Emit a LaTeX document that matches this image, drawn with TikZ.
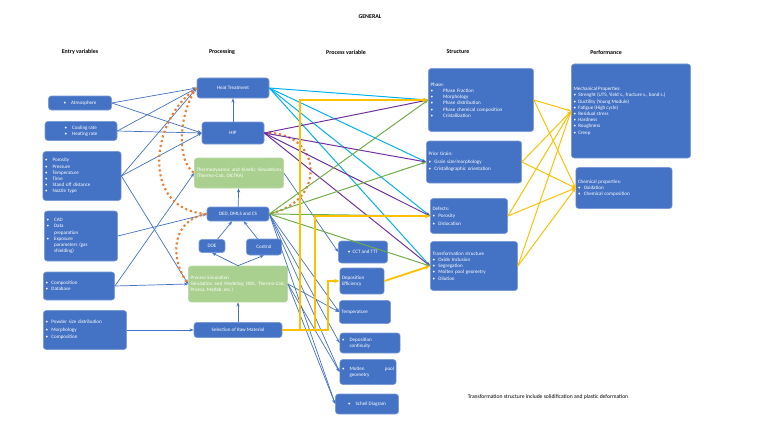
\documentclass[tikz,border=0pt]{standalone}
\usepackage{fontspec}
\setmainfont{Carlito}
\usetikzlibrary{arrows.meta}
\definecolor{boxblue}{RGB}{68,114,196}
\definecolor{boxgreen}{RGB}{169,208,142}
\definecolor{ycol}{RGB}{255,192,0}
\definecolor{ocol}{RGB}{237,125,49}
\definecolor{ccol}{RGB}{0,176,240}
\definecolor{pcol}{RGB}{112,48,160}
\definecolor{gcol}{RGB}{112,173,71}
\begin{document}
\begin{tikzpicture}[x=0.025cm,y=-0.025cm,
box/.style ={rectangle, draw=boxblue!70!white, fill=boxblue, text=white,
  rounded corners=2pt, font=\fontsize{3.6}{4.4}\selectfont, align=left,
  inner sep=1.5pt},
gbox/.style ={box, draw=boxgreen!80!white, fill=boxgreen},
head/.style ={font=\fontsize{4.2}{5}\selectfont\bfseries},
lk/.style ={draw=boxblue, line width=0.5pt, -{Stealth[length=3pt]}},
ck/.style ={draw=ccol, line width=0.7pt, -{Stealth[length=3pt]}},
pk/.style ={draw=pcol, line width=0.7pt, -{Stealth[length=3pt]}},
gk/.style ={draw=gcol, line width=0.7pt, -{Stealth[length=3pt]}},
yk/.style ={draw=ycol, line width=1.3pt, -{Stealth[length=4pt]}},
ok/.style ={draw=ocol, line width=1.5pt, dotted}]
\useasboundingbox (0,0) rectangle (768,433);
% headings
\node[head] (hgen) at (370,17) {GENERAL};
\node[head] (hent) at (80,52) {Entry variables};
\node[head] (hpro) at (222,52) {Processing};
\node[head] (hvar) at (346,52) {Process variable};
\node[head] (hstr) at (458,52) {Structure};
\node[head] (hper) at (606,52) {Performance};
% entry variables
\node[box, minimum width=63*0.025cm, minimum height=14*0.025cm] (atm) at (80,103) {\textbullet\quad Atmosphere};
\node[box, minimum width=72*0.025cm, minimum height=19*0.025cm] (cool) at (81,131) {\textbullet\quad Cooling rate\\\textbullet\quad Heating rate};
\node[box, text width=74*0.025cm, minimum height=49*0.025cm] (poro) at (82,176) {\textbullet\quad Porosity\\\textbullet\quad Pressure\\\textbullet\quad Temperature\\\textbullet\quad Time\\\textbullet\quad Stand off distance\\\textbullet\quad Nozzle type};
\node[box, text width=69*0.025cm, minimum height=50*0.025cm] (cad) at (81,236) {\textbullet\quad CAD\\\textbullet\quad Data\\\phantom{\textbullet\quad }preparation\\\textbullet\quad Exposure\\\phantom{\textbullet\quad }parameters (gas\\\phantom{\textbullet\quad }shielding)};
\node[box, text width=67*0.025cm, minimum height=28*0.025cm] (comp) at (79,286) {\textbullet\ \ Composition\\\textbullet\ \ Database};
\node[box, text width=79*0.025cm, minimum height=39*0.025cm] (powd) at (85,330) {\textbullet\ \ Powder size distribution\\[1pt]\textbullet\ \ Morphology\\[1pt]\textbullet\ \ Composition};
% processing
\node[box, minimum width=72*0.025cm, minimum height=20*0.025cm, align=center] (ht) at (233,88) {Heat Treatment};
\node[box, minimum width=62*0.025cm, minimum height=22*0.025cm, align=center] (hip) at (233,133) {HIP};
\node[gbox, text width=85*0.025cm, minimum height=30*0.025cm, align=justify] (thermo) at (239,173) {Thermodynamic and Kinetic Simulations (Thermo-Calc, DICTRA)};
\node[box, minimum width=62*0.025cm, minimum height=14*0.025cm, align=center] (ded) at (238,214) {DED, DMLS and CS};
\node[box, minimum width=26*0.025cm, minimum height=13*0.025cm, align=center] (doe) at (212,246) {DOE};
\node[box, minimum width=35*0.025cm, minimum height=16*0.025cm, align=center] (ctrl) at (264,247) {Control};
\node[gbox, text width=95*0.025cm, minimum height=36*0.025cm, align=justify] (psim) at (238,284) {Process Simulation\\Simulation and Modeling (KSS, Thermo-Calc, Prisma, Matlab, etc.)};
\node[box, minimum width=88*0.025cm, minimum height=15*0.025cm, align=center] (sel) at (238,330) {Selection of Raw Material};
% process variables
\node[box, minimum width=49*0.025cm, minimum height=22*0.025cm] (cct) at (363,252) {\textbullet\ \ CCT and TTT};
\node[box, text width=40*0.025cm, minimum height=26*0.025cm] (deff) at (362,281) {Deposition\\Efficiency};
\node[box, text width=47*0.025cm, minimum height=23*0.025cm] (temp) at (365,312) {Temperature};
\node[box, text width=56*0.025cm, minimum height=20*0.025cm] (dcon) at (370,343) {\textbullet\quad Deposition\\\phantom{\textbullet\quad }continuity};
\node[box, text width=52*0.025cm, minimum height=25*0.025cm] (mpool) at (368,372) {\textbullet\quad Molten\hfill pool\\\phantom{\textbullet\quad }geometry};
\node[box, minimum width=63*0.025cm, minimum height=20*0.025cm] (scheil) at (367,404) {\textbullet\quad Scheil Diagram};
% structure
\node[box, text width=101*0.025cm, minimum height=63*0.025cm] (phase) at (481,100) {Phase:\\\textbullet\qquad Phase Fraction\\\textbullet\qquad Morphology\\\textbullet\qquad Phase distribution\\\textbullet\qquad Phase chemical composition\\\textbullet\qquad Cristallization};
\node[box, text width=91*0.025cm, minimum height=42*0.025cm] (grain) at (474,162) {Prior Grain:\\[1pt]\textbullet\ \ Grain size/morphology\\[1pt]\textbullet\ \ Cristallographic orientation};
\node[box, text width=73*0.025cm, minimum height=35*0.025cm] (defe) at (469,216) {Defects:\\[1pt]\textbullet\ \ Porosity\\[1pt]\textbullet\ \ Dislocation};
\node[box, text width=83*0.025cm, minimum height=49*0.025cm] (trans) at (474,266) {Transformation structure\\\textbullet\ \ Oxide Inclusion\\\textbullet\ \ Segregation\\\textbullet\ \ Molten pool geometry\\\textbullet\ \ Dilution};
% performance
\node[box, text width=115*0.025cm, minimum height=94*0.025cm, align=justify] (mech) at (631,111) {Mechanical Properties:\\\textbullet\ \ Strenght (UTS, Yield s., fracture s., bond s.)\\\textbullet\ \ Ductility (Young Module)\\\textbullet\ \ Fatigue (High cycle)\\\textbullet\ \ Residual stress\\\textbullet\ \ Hardness\\\textbullet\ \ Roughness\\\textbullet\ \ Creep};
\node[box, text width=92*0.025cm, minimum height=41*0.025cm] (chem) at (624,188) {Chemical properties:\\\textbullet\ \ Oxidation\\\textbullet\ \ Chemical composition};
\node[font=\fontsize{4}{5}\selectfont] (note) at (548,397) {Transformation structure include solidification and plastic deformation};
% entry -> processing
\draw[lk] (atm.east) -- (ht.west);
\draw[lk] (atm.east) -- (hip.west);
\draw[lk] (cool.east) -- (ht.west);
\draw[lk] (cool.east) -- (hip.west);
\draw[lk] (poro.east) -- (ht.west);
\draw[lk] (poro.east) -- (hip.west);
\draw[lk] (poro.east) -- (psim.west);
\draw[lk] (cad.east) -- (ded.west);
\draw[lk] (comp.east) -- (thermo.west);
\draw[lk] (comp.east) -- (psim.west);
\draw[lk] (powd.east) -- (sel.west);
% inside processing
\draw[lk] (hip) -- (ht);
\draw[lk] (ded) -- (thermo);
\draw[lk] (doe) -- (ded);
\draw[lk] (ctrl) -- (ded);
\draw[lk] (psim.north) -- (doe.south);
\draw[lk] (psim.north) -- (ctrl.south);
\draw[lk] (sel) -- (psim);
% dotted feedback
\draw[ok] (ht.west) .. controls (150,120) and (140,210) .. (ded.west);
\draw[ok] (ht.west) .. controls (180,110) and (175,160) .. (thermo.west);
\draw[ok] (ded.west) .. controls (170,220) and (170,260) .. (psim.west);
\draw[ok] (hip.east) .. controls (320,130) and (330,200) .. (ded.east);
% processing -> process variables
\draw[lk] (thermo.east) -- (cct.west);
\draw[lk] (ded.east) -- (temp.west);
\draw[lk] (ded.east) -- (dcon.west);
\draw[lk] (ded.east) -- (mpool.west);
\draw[lk] (ded.east) -- (scheil.west);
\draw[lk] (psim.east) -- (temp.west);
\draw[lk] (psim.east) -- (mpool.west);
\draw[lk] (psim.east) -- (scheil.west);
% processing -> structure
\foreach \t in {phase,grain,trans} \draw[ck] (ht.east) -- (\t.west);
\draw[ck] (ht.east) -- (defe.west);
\foreach \t in {phase,grain,defe,trans} \draw[pk] (hip.east) -- (\t.west);
\foreach \t in {phase,grain,defe,trans} \draw[gk] (ded.east) -- (\t.west);
% yellow links
\coordinate (y1) at (300,330);
\draw[yk] (sel.east) -- (y1) |- (phase.west);
\draw[yk] (sel.east) -| (315,216) -- (defe.west);
\draw[yk] (sel.east) -| (328,281) -- (deff.west);
\draw[yk] (deff.east) -- (trans.west);
\foreach \s in {phase,grain,defe,trans} {
  \draw[draw=ycol, line width=0.7pt, -{Stealth[length=3pt]}] (\s.east) -- (mech.west);
  \draw[draw=ycol, line width=0.7pt, -{Stealth[length=3pt]}] (\s.east) -- (chem.west);
}
\end{tikzpicture}
\end{document}
